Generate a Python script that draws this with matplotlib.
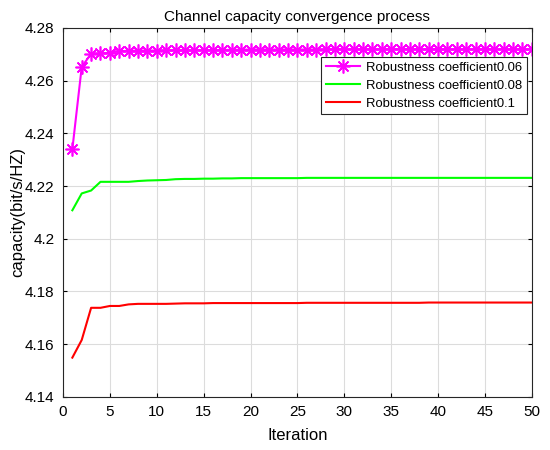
import matplotlib.pyplot as plt

plt.rcParams['font.family'] = ['Liberation Sans', 'DejaVu Sans']

iterations = list(range(1, 51))

cap_006 = [4.2340, 4.2652, 4.2702, 4.2703, 4.2706, 4.2712, 4.2713, 4.2714, 4.2714, 4.2714,
           4.2715, 4.2715, 4.2715, 4.2715, 4.2716, 4.2716, 4.2716, 4.2717, 4.2717, 4.2718,
           4.2718, 4.2718, 4.2718, 4.2718, 4.2718, 4.2718, 4.2718, 4.2719, 4.2719, 4.2719,
           4.2719, 4.2719, 4.2719, 4.2719, 4.2719, 4.2719, 4.2719, 4.2719, 4.2719, 4.2719,
           4.2719, 4.2719, 4.2719, 4.2719, 4.2719, 4.2719, 4.2719, 4.2719, 4.2719, 4.2719]

cap_008 = [4.2108, 4.2172, 4.2183, 4.2216, 4.2216, 4.2216, 4.2216, 4.2219, 4.2221, 4.2222,
           4.2223, 4.2226, 4.2227, 4.2227, 4.2228, 4.2228, 4.2229, 4.2229, 4.2230, 4.2230,
           4.2230, 4.2230, 4.2230, 4.2230, 4.2230, 4.2231, 4.2231, 4.2231, 4.2231, 4.2231,
           4.2231, 4.2231, 4.2231, 4.2231, 4.2231, 4.2231, 4.2231, 4.2231, 4.2231, 4.2231,
           4.2231, 4.2231, 4.2231, 4.2231, 4.2231, 4.2231, 4.2231, 4.2231, 4.2231, 4.2231]

cap_01 = [4.1549, 4.1616, 4.1738, 4.1738, 4.1745, 4.1745, 4.1751, 4.1753, 4.1753, 4.1753,
          4.1753, 4.1754, 4.1755, 4.1755, 4.1755, 4.1756, 4.1756, 4.1756, 4.1756, 4.1756,
          4.1756, 4.1756, 4.1756, 4.1756, 4.1756, 4.1757, 4.1757, 4.1757, 4.1757, 4.1757,
          4.1757, 4.1757, 4.1757, 4.1757, 4.1757, 4.1757, 4.1757, 4.1757, 4.1758, 4.1758,
          4.1758, 4.1758, 4.1758, 4.1758, 4.1758, 4.1758, 4.1758, 4.1758, 4.1758, 4.1758]

fig = plt.figure(figsize=(5.5, 4.5), dpi=100)
ax = fig.add_axes([0.1145, 0.118, 0.8525, 0.82])

# MATLAB-style asterisk marker (8 arms)
ax.plot(iterations, cap_006, color='#ff00ff', lw=1.5, marker=(8, 2, 0), markersize=10,
        markeredgewidth=1.2, label='Robustness coefficient0.06')
ax.plot(iterations, cap_008, color='#00ff00', lw=1.5, label='Robustness coefficient0.08')
ax.plot(iterations, cap_01, color='#ff0000', lw=1.5, label='Robustness coefficient0.1')

ax.set_xlim(0, 50)
ax.set_ylim(4.14, 4.28)
ax.set_xticks(range(0, 51, 5))
ax.set_yticks([4.14, 4.16, 4.18, 4.2, 4.22, 4.24, 4.26, 4.28])
ax.set_yticklabels(['4.14', '4.16', '4.18', '4.2', '4.22', '4.24', '4.26', '4.28'])
ax.grid(True, color='#dcdcdc', lw=0.8)
ax.tick_params(direction='in', top=True, right=True, labelsize=11, length=3, pad=6)
for s in ax.spines.values():
    s.set_color('#262626')
    s.set_linewidth(0.8)

ax.set_xlabel('Iteration', fontsize=12, labelpad=6)
ax.set_ylabel('capacity(bit/s/HZ)', fontsize=12, labelpad=0)
ax.set_title('Channel capacity convergence process', fontsize=11, pad=5)

leg = ax.legend(loc='upper right', bbox_to_anchor=(0.99, 0.921), borderaxespad=0,
                fontsize=9.4, fancybox=False, edgecolor='#262626', framealpha=1,
                handlelength=2.6, borderpad=0.35, labelspacing=0.45, handletextpad=0.5)
leg.get_frame().set_linewidth(0.8)

fig.savefig('out.png')
